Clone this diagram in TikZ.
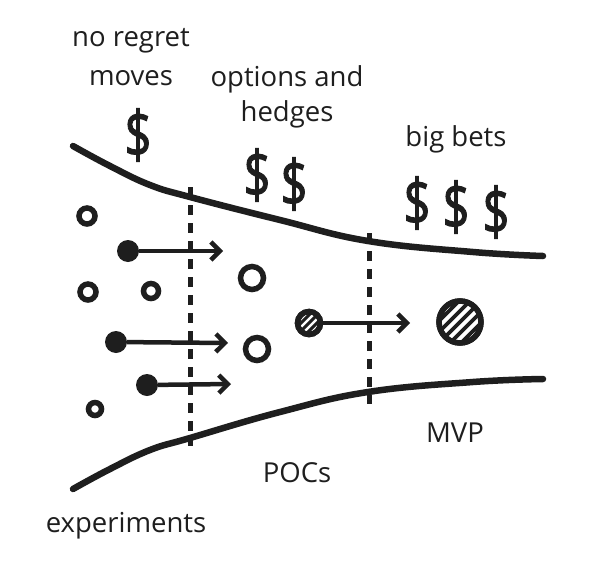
\documentclass[tikz,border=0pt]{standalone}
\usepackage{fontspec}
\usepackage{graphicx}
\setmainfont{Open Sans}
\newfontfamily\dolfont{Open Sans}[FakeBold=1.8]
\usetikzlibrary{arrows.meta,calc}
\definecolor{ink}{HTML}{1E1E1E}
\newcommand{\dolsign}{\scalebox{0.82}[1.12]{\$}}
\tikzset{
  lbl/.style={anchor=base, font=\fontsize{27.5}{31}\selectfont, text=ink, inner sep=0pt},
  dol/.style={font=\dolfont\fontsize{58}{62}\selectfont, text=ink, inner sep=0pt},
  edge/.style={ink, line width=6.5pt, line cap=round, line join=round},
  divider/.style={ink, line width=5pt, dash pattern=on 10pt off 8pt},
  ring/.style={circle, draw=ink, line width=5.5pt, inner sep=0pt, fill=white},
  dot/.style={circle, fill=ink, inner sep=0pt, minimum size=22pt},
  flow/.style={ink, line width=4.5pt, -{Straight Barb[length=9pt,width=18pt,line width=4.5pt]}},
  hatchring/.style={circle, draw=ink, line width=5.5pt, inner sep=0pt}
}
\begin{document}
\begin{tikzpicture}[x=1pt,y=-1pt]
\useasboundingbox (0,0) rectangle (599,578);
% boundary curves
\draw[edge] plot[smooth, tension=0.7] coordinates {(73,146) (110,166) (150,185) (190,197) (280,220) (368,241) (473,252) (543,256)};
\draw[edge] plot[smooth, tension=0.7] coordinates {(73,489) (110,469) (150,450) (190,438) (280,412) (368,392) (473,382) (543,379)};
% dividers
\coordinate (d1t) at (190,187);
\coordinate (d1b) at (190,446);
\coordinate (d2t) at (369,233);
\coordinate (d2b) at (369,404);
\draw[divider] (d1t) -- (d1b);
\draw[divider] (d2t) -- (d2b);
% labels
\node[lbl] (l1) at (131,47) {no regret};
\node[lbl] (l2) at (131,85) {moves};
\node[lbl] (l3) at (287,86) {options and};
\node[lbl] (l4) at (287,121) {hedges};
\node[lbl] (l5) at (456,146) {big bets};
\node[lbl] (l6) at (126,532) {experiments};
\node[lbl] (l7) at (297,482) {POCs};
\node[lbl] (l8) at (455,442) {MVP};
% dollars
\node[dol] (s1) at (138,135) {\dolsign};
\node[dol] (s2) at (257,175) {\dolsign};
\node[dol] (s3) at (294,184) {\dolsign};
\node[dol] (s4) at (417,203) {\dolsign};
\node[dol] (s5) at (456,207) {\dolsign};
\node[dol] (s6) at (496,212) {\dolsign};
% experiments (small rings)
\node[ring, minimum size=16pt] (e1) at (87,216) {};
\node[ring, minimum size=16pt] (e2) at (88,292) {};
\node[ring, minimum size=15pt] (e3) at (151,291) {};
\node[ring, minimum size=13pt] (e4) at (95,409) {};
% moving experiments
\node[dot] (m1) at (128,251) {};
\node[dot] (m2) at (116,342) {};
\node[dot] (m3) at (147,385) {};
\coordinate (a1) at (223,251);
\coordinate (a2) at (228,343);
\coordinate (a3) at (231,384);
\draw[flow] (m1) -- (a1);
\draw[flow] (m2) -- (a2);
\draw[flow] (m3) -- (a3);
% POCs
\node[ring, minimum size=23pt] (p1) at (252,278) {};
\node[ring, minimum size=23pt] (p2) at (257,349) {};
% hatched POC moving to MVP
\node[hatchring, minimum size=23pt] (h1) at (309,323) {};
\node[hatchring, minimum size=42pt] (h2) at (460,322) {};
\begin{scope}
  \clip (309,323) circle (11pt);
  \foreach \k in {-8,0,8} {
    \draw[ink, line width=3pt] ($(309,323)+(\k,0)+(-14,14)$) -- ($(309,323)+(\k,0)+(14,-14)$);
  }
\end{scope}
\begin{scope}
  \clip (460,322) circle (20pt);
  \foreach \k in {-22,-11,0,11,22} {
    \draw[ink, line width=3.8pt] ($(460,322)+(\k,0)+(-25,25)$) -- ($(460,322)+(\k,0)+(25,-25)$);
  }
\end{scope}
\node[hatchring, minimum size=23pt] at (h1) {};
\node[hatchring, minimum size=42pt] at (h2) {};
\coordinate (a4) at (410,323);
\draw[flow] (h1) -- (a4);
\end{tikzpicture}
\end{document}
